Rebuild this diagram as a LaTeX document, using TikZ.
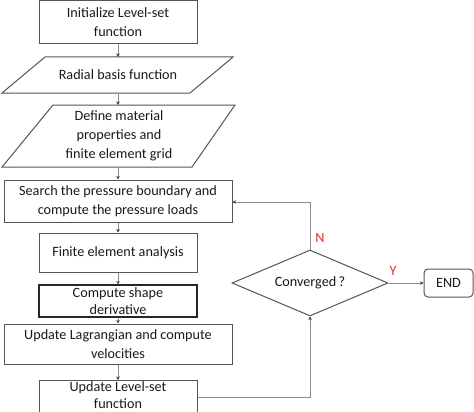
\documentclass[tikz,border=0pt]{standalone}
\usepackage{fontspec}
\setmainfont{Carlito}
\usetikzlibrary{arrows.meta,shapes.geometric}
\definecolor{bord}{HTML}{555555}
\definecolor{conn}{HTML}{8C8C8C}
\definecolor{lab}{HTML}{E0303A}
\definecolor{ink}{HTML}{1A1A1A}
\tikzset{
  box/.style={draw=bord, line width=1pt, fill=white, inner sep=0pt, align=center, text=ink,
    font=\fontsize{14.2}{19}\selectfont},
  para/.style={draw=bord, line width=1pt, fill=white},
  txt/.style={inner sep=0pt, align=center, text=ink, font=\fontsize{14.2}{19}\selectfont},
  arr/.style={draw=conn, line width=0.8pt, -{Stealth[length=3.5pt,width=3.5pt,color=black!75]}},
  yn/.style={text=lab, font=\fontsize{14.2}{16}\selectfont, inner sep=0pt}
}
\begin{document}
\begin{tikzpicture}[x=1pt,y=-1pt]
\useasboundingbox (0,0) rectangle (474,412);
\fill[white] (0,0) rectangle (474,412);
% boxes
\node[box, minimum width=158pt, minimum height=43pt] (b1) at (118,22.5) {Initialize Level-set\\function};
\draw[para] (2,93) -- (190,93) -- (233,57) -- (45,57) -- cycle;
\node[txt] (p2) at (118,75) {Radial basis function};
\coordinate (p2t) at (118,57);
\coordinate (p2b) at (118,93);
\draw[para] (2,167) -- (192,167) -- (235,105) -- (53,105) -- cycle;
\node[txt] (p3) at (119,136) {Define material\\properties and\\finite element grid};
\coordinate (p3t) at (118,105);
\coordinate (p3b) at (118,167);
\node[box, minimum width=228pt, minimum height=42pt] (b4) at (118,201) {Search the pressure boundary and\\compute the pressure loads};
\node[box, minimum width=158pt, minimum height=39pt] (b5) at (118,252.5) {Finite element analysis};
\node[box, draw=black!85, line width=1.2pt, minimum width=158pt, minimum height=32pt, font=\fontsize{14.2}{17}\selectfont] (b6) at (118,301) {Compute shape\\derivative};
\node[box, minimum width=228pt, minimum height=40pt] (b7) at (118,344) {Update Lagrangian and compute\\velocities};
\node[box, minimum width=158pt, minimum height=44pt, anchor=north, font=\fontsize{14.2}{17}\selectfont] (b8) at (118,380) {\raisebox{0pt}[11pt][0pt]{Update Level-set}\\function\\[6pt]\mbox{}};
\node[draw=bord, line width=1pt, diamond, aspect=2.36, minimum width=156pt, minimum height=66pt, inner sep=0pt, text=ink, font=\fontsize{14.2}{16}\selectfont] (d) at (310,283) {Converged\,?};
\node[draw=bord, line width=1pt, rounded corners=4pt, minimum width=49pt, minimum height=28pt, inner sep=0pt, text=ink, font=\fontsize{14.2}{16}\selectfont] (e) at (448.5,283) {END};
% connectors
\draw[arr] (b1) -- (p2t);
\draw[arr] (p2b) -- (p3t);
\draw[arr] (p3b) -- (b4);
\draw[arr] (b4) -- (b5);
\draw[arr] (b5) -- (b6);
\draw[arr] (b6) -- (b7);
\draw[arr] (b7) -- (b8);
\coordinate (c1) at (310,202);
\coordinate (c2) at (310,397);
\draw[arr] (d.north) -- (c1) -- (b4.east |- c1);
\draw[arr] (b8.east |- c2) -- (c2) -- (d.south);
\draw[arr] (d.east) -- (e.west);
\node[yn] (n) at (320,238) {N};
\node[yn] (y) at (393,271) {Y};
\end{tikzpicture}
\end{document}
